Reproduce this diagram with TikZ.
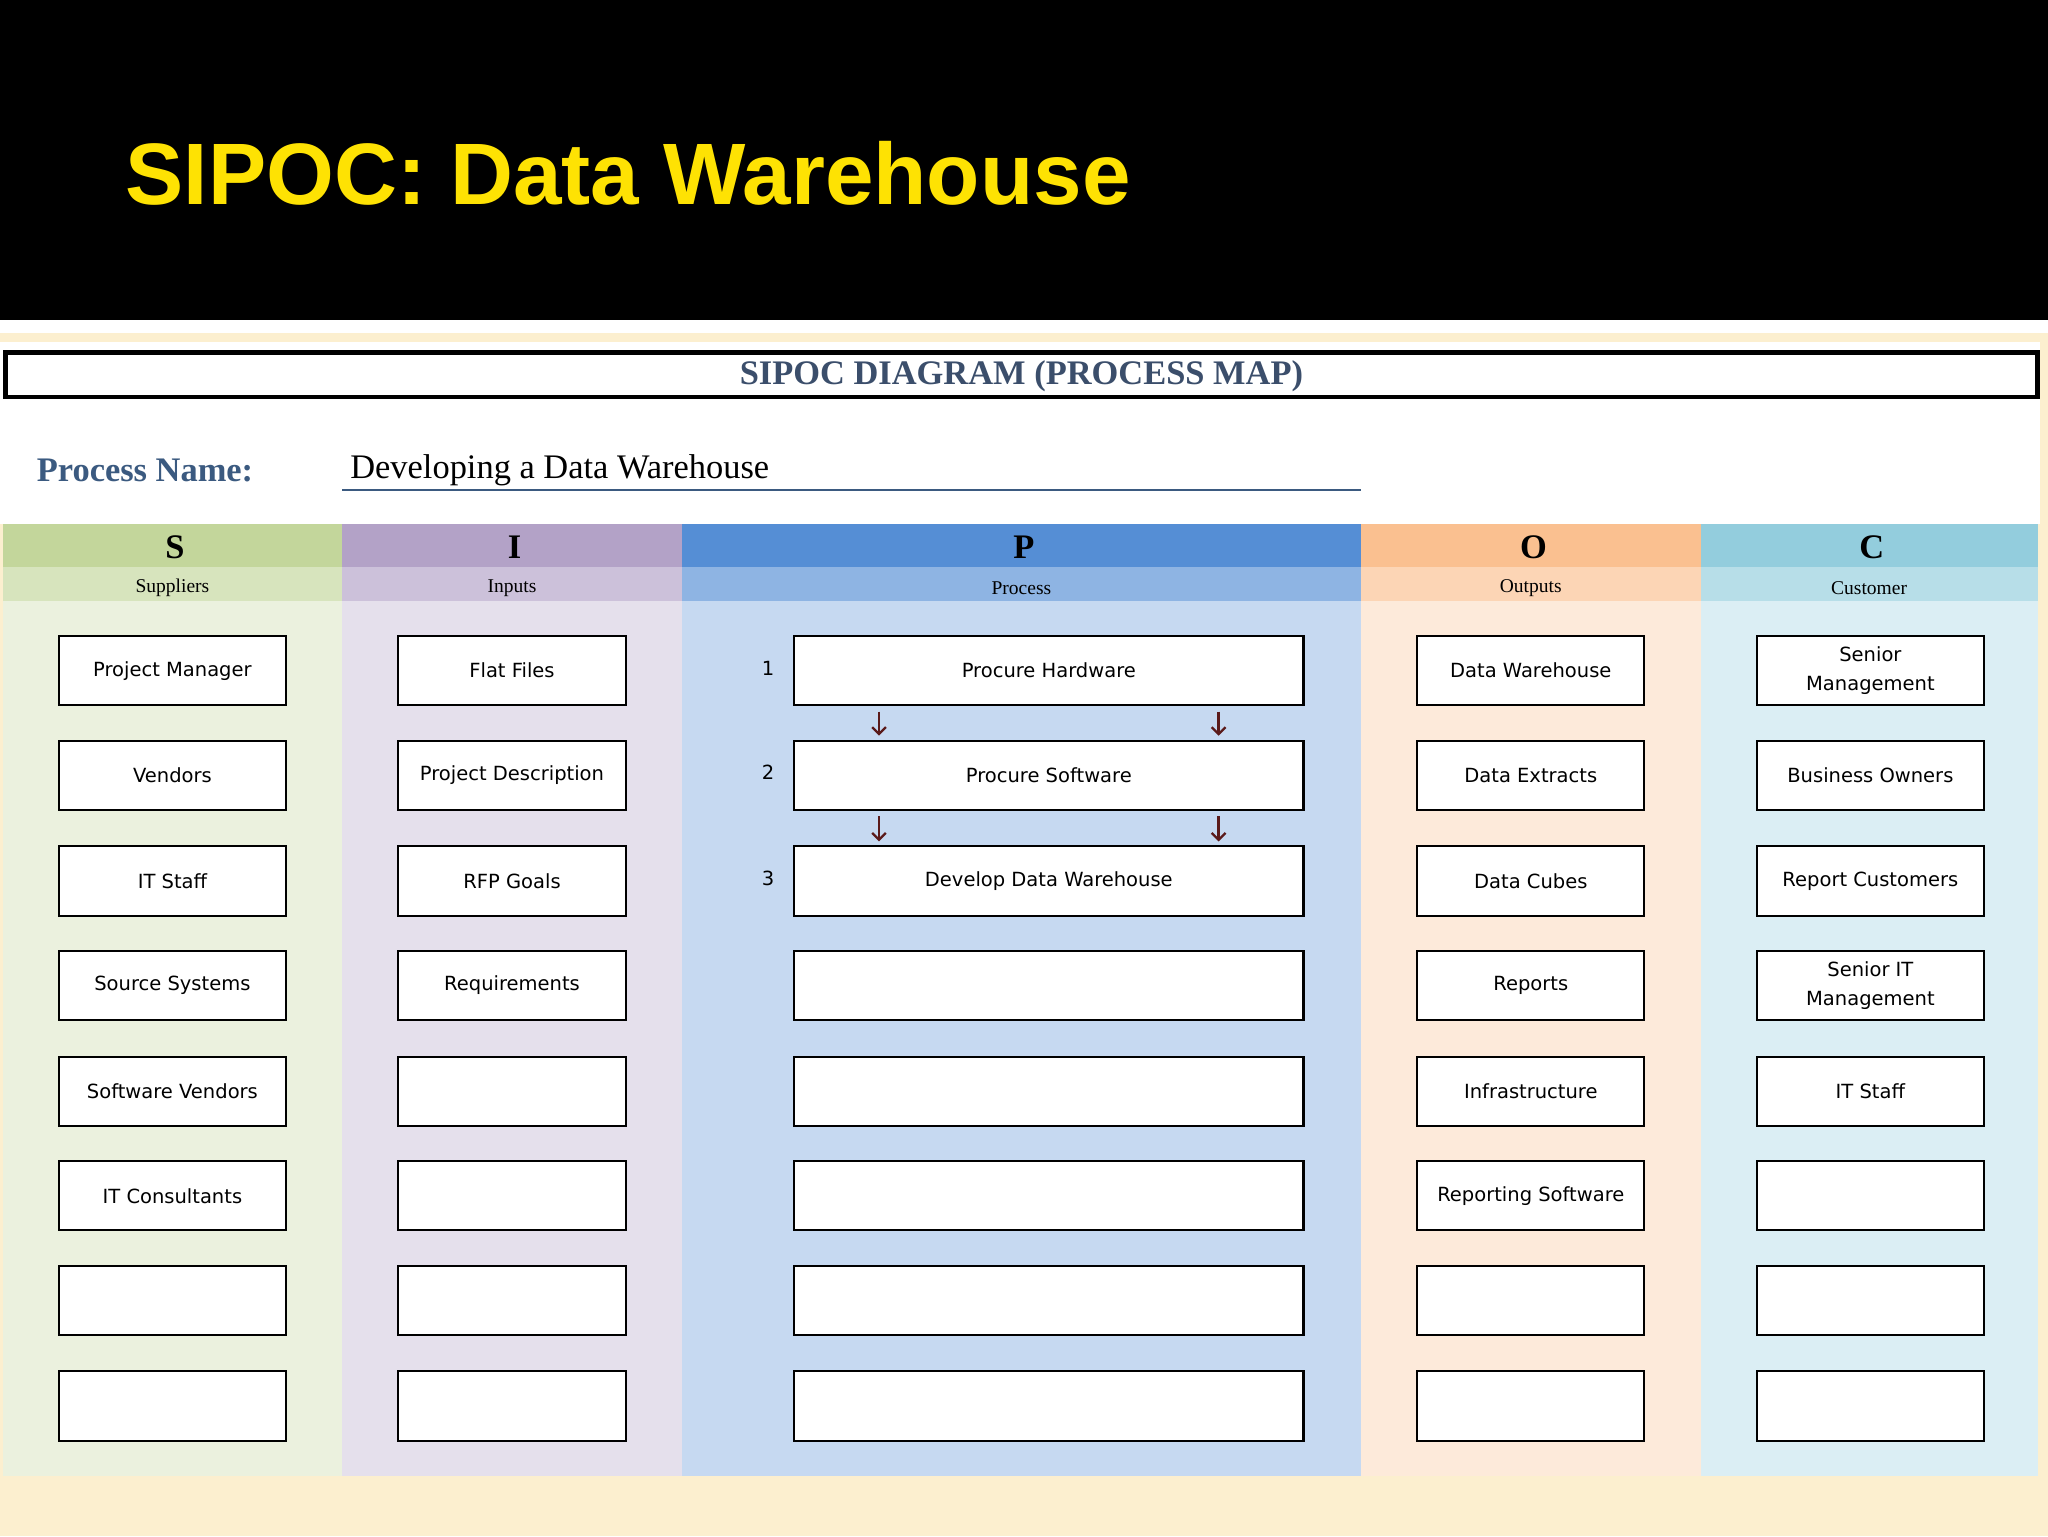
\documentclass[tikz,border=0pt]{standalone}
\usepackage{fontspec}
\setmainfont{Liberation Serif}
\newfontfamily\titlefont{Liberation Sans}
\newfontfamily\boxfont{DejaVu Sans}
\definecolor{cream}{HTML}{FCEFCF}
\definecolor{ttl}{HTML}{3B4E6B}
\definecolor{pn}{HTML}{3B5A80}
\definecolor{arr}{HTML}{5A1A1A}
\definecolor{sA}{HTML}{C3D69B}\definecolor{sB}{HTML}{D7E4BD}\definecolor{sC}{HTML}{EBF1DE}
\definecolor{iA}{HTML}{B3A2C7}\definecolor{iB}{HTML}{CCC1DA}\definecolor{iC}{HTML}{E5E0EC}
\definecolor{pA}{HTML}{558ED5}\definecolor{pB}{HTML}{8EB4E3}\definecolor{pC}{HTML}{C6D9F1}
\definecolor{oA}{HTML}{FAC090}\definecolor{oB}{HTML}{FCD5B5}\definecolor{oC}{HTML}{FDEADA}
\definecolor{cA}{HTML}{93CDDD}\definecolor{cB}{HTML}{B7DEE8}\definecolor{cC}{HTML}{DBEEF4}
\tikzset{
 cell/.style={draw=black, line width=0.9pt, fill=white, minimum height=53*0.2mm, inner sep=1pt, align=center, font=\boxfont\fontsize{8.5}{12.5}\selectfont},
 sbox/.style={cell, minimum width=174*0.2mm},
 pbox/.style={cell, minimum width=390*0.2mm},
 hdr/.style={font=\bfseries\fontsize{15}{15}\selectfont},
 sub/.style={font=\fontsize{8.5}{9}\selectfont},
 flow/.style={arr, line width=1pt, -{Straight Barb[length=3pt]}}
}
\usetikzlibrary{arrows.meta}
\begin{document}
\begin{tikzpicture}[x=0.2mm,y=-0.2mm]
\useasboundingbox (0,0) rectangle (1568,1176);
\fill[black] (0,0) rectangle (1568,245);
\fill[white] (0,245) rectangle (1568,255);
\fill[cream] (0,255) rectangle (1568,1176);
\fill[white] (0,262) rectangle (1562,401);
\node[anchor=west, text=yellow!85!orange, font=\titlefont\bfseries\fontsize{38}{40}\selectfont] (title) at (90,133) {SIPOC: Data Warehouse};
\draw[line width=2pt] (4,270) rectangle (1560,304);
\node[text=ttl, font=\bfseries\fontsize{15}{16}\selectfont] (dt) at (782,288) {SIPOC DIAGRAM (PROCESS MAP)};
\node[anchor=west, text=pn, font=\bfseries\fontsize{15}{16}\selectfont] (pnl) at (22,360) {Process Name:};
\node[anchor=west, font=\fontsize{15}{16}\selectfont] (pnv) at (262,360) {Developing a Data Warehouse};
\draw[pn, line width=0.8pt] (262,375) -- (1042,375);
% columns
\foreach \x/\w/\c/\L/\sb in {2/260/s/S/Suppliers, 262/260/i/I/Inputs, 522/520/p/P/Process, 1042/260/o/O/Outputs, 1302/258/c/C/Customer}{
 \fill[\c A] (\x,401) rectangle ++(\w,33);
 \fill[\c B] (\x,434) rectangle ++(\w,26);
 \fill[\c C] (\x,460) rectangle ++(\w,670);
 \node[hdr] (h\c) at (\x+\w/2+2,419) {\L};
 \node[sub] (sb\c) at (\x+\w/2,450) {\sb};
}
% rows
\def\ry{{513.5,593.5,674.5,754.5,835.5,915.5,995.5,1076.5}}
\foreach \t [count=\k] in {Project Manager,Vendors,IT Staff,Source Systems,Software Vendors,IT Consultants,{},{}}
  {\pgfmathsetmacro\yy{\ry[\k-1]}\node[sbox] (s\k) at (132,\yy) {\t};}
\foreach \t [count=\k] in {Flat Files,Project Description,RFP Goals,Requirements,{},{},{},{}}
  {\pgfmathsetmacro\yy{\ry[\k-1]}\node[sbox] (i\k) at (392,\yy) {\t};}
\foreach \t [count=\k] in {Procure Hardware,Procure Software,Develop Data Warehouse,{},{},{},{},{}}
  {\pgfmathsetmacro\yy{\ry[\k-1]}\node[pbox] (p\k) at (803,\yy) {\t};}
\foreach \t [count=\k] in {Data Warehouse,Data Extracts,Data Cubes,Reports,Infrastructure,Reporting Software,{},{}}
  {\pgfmathsetmacro\yy{\ry[\k-1]}\node[sbox] (o\k) at (1172,\yy) {\t};}
\foreach \t [count=\k] in {Senior\\Management,Business Owners,Report Customers,Senior IT\\Management,IT Staff,{},{},{}}
  {\pgfmathsetmacro\yy{\ry[\k-1]}\node[sbox] (c\k) at (1432,\yy) {\t};}
\foreach \k in {1,2,3}{\node[font=\boxfont\fontsize{8.5}{9}\selectfont] (n\k) at (588,\ry[\k-1]-2) {\k};}
\foreach \a/\b in {1/2,2/3}{
 \draw[flow] ([xshift=-130*0.2mm,yshift=-4*0.2mm]p\a.south) -- ([xshift=-130*0.2mm,yshift=3*0.2mm]p\b.north);
 \draw[flow] ([xshift=130*0.2mm,yshift=-4*0.2mm]p\a.south) -- ([xshift=130*0.2mm,yshift=3*0.2mm]p\b.north);
}
\end{tikzpicture}
\end{document}
